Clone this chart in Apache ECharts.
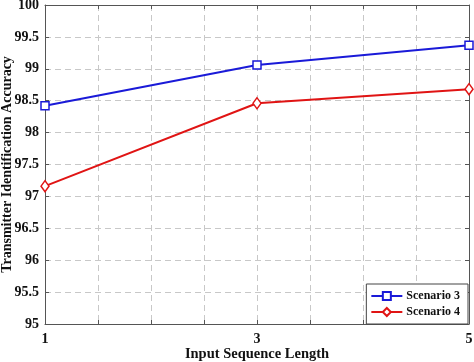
<!DOCTYPE html>
<html><head><meta charset="utf-8">
<script src="https://cdn.jsdelivr.net/npm/echarts@6/dist/echarts.min.js"></script>
<style>html,body{margin:0;padding:0;background:#fff}#c{width:474px;height:362px}</style>
</head><body><div id="c"></div>
<script>
const xValues = [1, 3, 5];
const xTickLabels = [1, 3, 5];
const scenario3 = [98.42, 99.06, 99.37];
const scenario4 = [97.16, 98.46, 98.68];
const seriesNames = ['Scenario 3', 'Scenario 4'];
const xTitle = 'Input Sequence Length';
const yTitle = 'Transmitter Identification Accuracy';

const font = 'Liberation Serif';
const axisColor = '#555';
const gridStyle = {color: '#c8c8c8', type: [6, 4], width: 1};

const chart = echarts.init(document.getElementById('c'));
chart.setOption({
  animation: false,
  grid: {left: 45, right: 5, top: 5, bottom: 38, containLabel: false, outerBoundsMode: 'none'},
  legend: {
    right: 6, bottom: 38, orient: 'vertical',
    itemWidth: 31, itemHeight: 10, itemGap: 4,
    padding: [6, 8, 6, 4],
    borderColor: '#444', borderWidth: 1, backgroundColor: '#fff', borderRadius: 0,
    textStyle: {fontFamily: font, fontWeight: 'bold', fontSize: 12, color: '#111', padding: [0, 0, 0, -1]},
    data: seriesNames
  },
  xAxis: [{
    type: 'value', min: 1, max: 5, interval: 0.5,
    name: xTitle, nameLocation: 'middle', nameGap: 23, nameMoveOverlap: false,
    nameTextStyle: {fontFamily: font, fontWeight: 'bold', fontSize: 14.5, color: '#111'},
    axisLine: {lineStyle: {color: axisColor}},
    axisTick: {inside: true, length: 4, lineStyle: {color: axisColor}},
    axisLabel: {fontFamily: font, fontWeight: 'bold', fontSize: 14, color: '#111', margin: 8,
      formatter: v => xTickLabels.includes(v) ? String(v) : '', showMaxLabel: true, showMinLabel: true},
    splitLine: {show: true, lineStyle: gridStyle}
  }, {
    type: 'value', min: 1, max: 5, interval: 0.5, position: 'top',
    axisLine: {lineStyle: {color: axisColor}},
    axisTick: {inside: true, length: 4, lineStyle: {color: axisColor}},
    axisLabel: {show: false}, splitLine: {show: false}
  }],
  yAxis: [{
    type: 'value', min: 95, max: 100, interval: 0.5,
    name: yTitle, nameLocation: 'middle', nameGap: 31, nameMoveOverlap: false,
    nameTextStyle: {fontFamily: font, fontWeight: 'bold', fontSize: 14, color: '#111'},
    axisLine: {show: true, lineStyle: {color: axisColor}},
    axisTick: {show: true, inside: true, length: 4, lineStyle: {color: axisColor}},
    axisLabel: {fontFamily: font, fontWeight: 'bold', fontSize: 14, color: '#111', margin: 6},
    splitLine: {show: true, lineStyle: gridStyle}
  }, {
    type: 'value', min: 95, max: 100, interval: 0.5, position: 'right',
    axisLine: {show: true, lineStyle: {color: axisColor}},
    axisTick: {show: true, inside: true, length: 4, lineStyle: {color: axisColor}},
    axisLabel: {show: false}, splitLine: {show: false}
  }],
  series: [{
    name: seriesNames[0], type: 'line',
    data: xValues.map((x, i) => [x, scenario3[i]]),
    symbol: 'rect', symbolSize: 8, showAllSymbol: true,
    lineStyle: {color: '#1a1ad8', width: 2},
    itemStyle: {color: '#fff', borderColor: '#1a1ad8', borderWidth: 1.5}
  }, {
    name: seriesNames[1], type: 'line',
    data: xValues.map((x, i) => [x, scenario4[i]]),
    symbol: 'diamond', symbolSize: [8, 11], showAllSymbol: true,
    lineStyle: {color: '#e01414', width: 2},
    itemStyle: {color: '#fff', borderColor: '#e01414', borderWidth: 1.5}
  }]
});
</script></body></html>
